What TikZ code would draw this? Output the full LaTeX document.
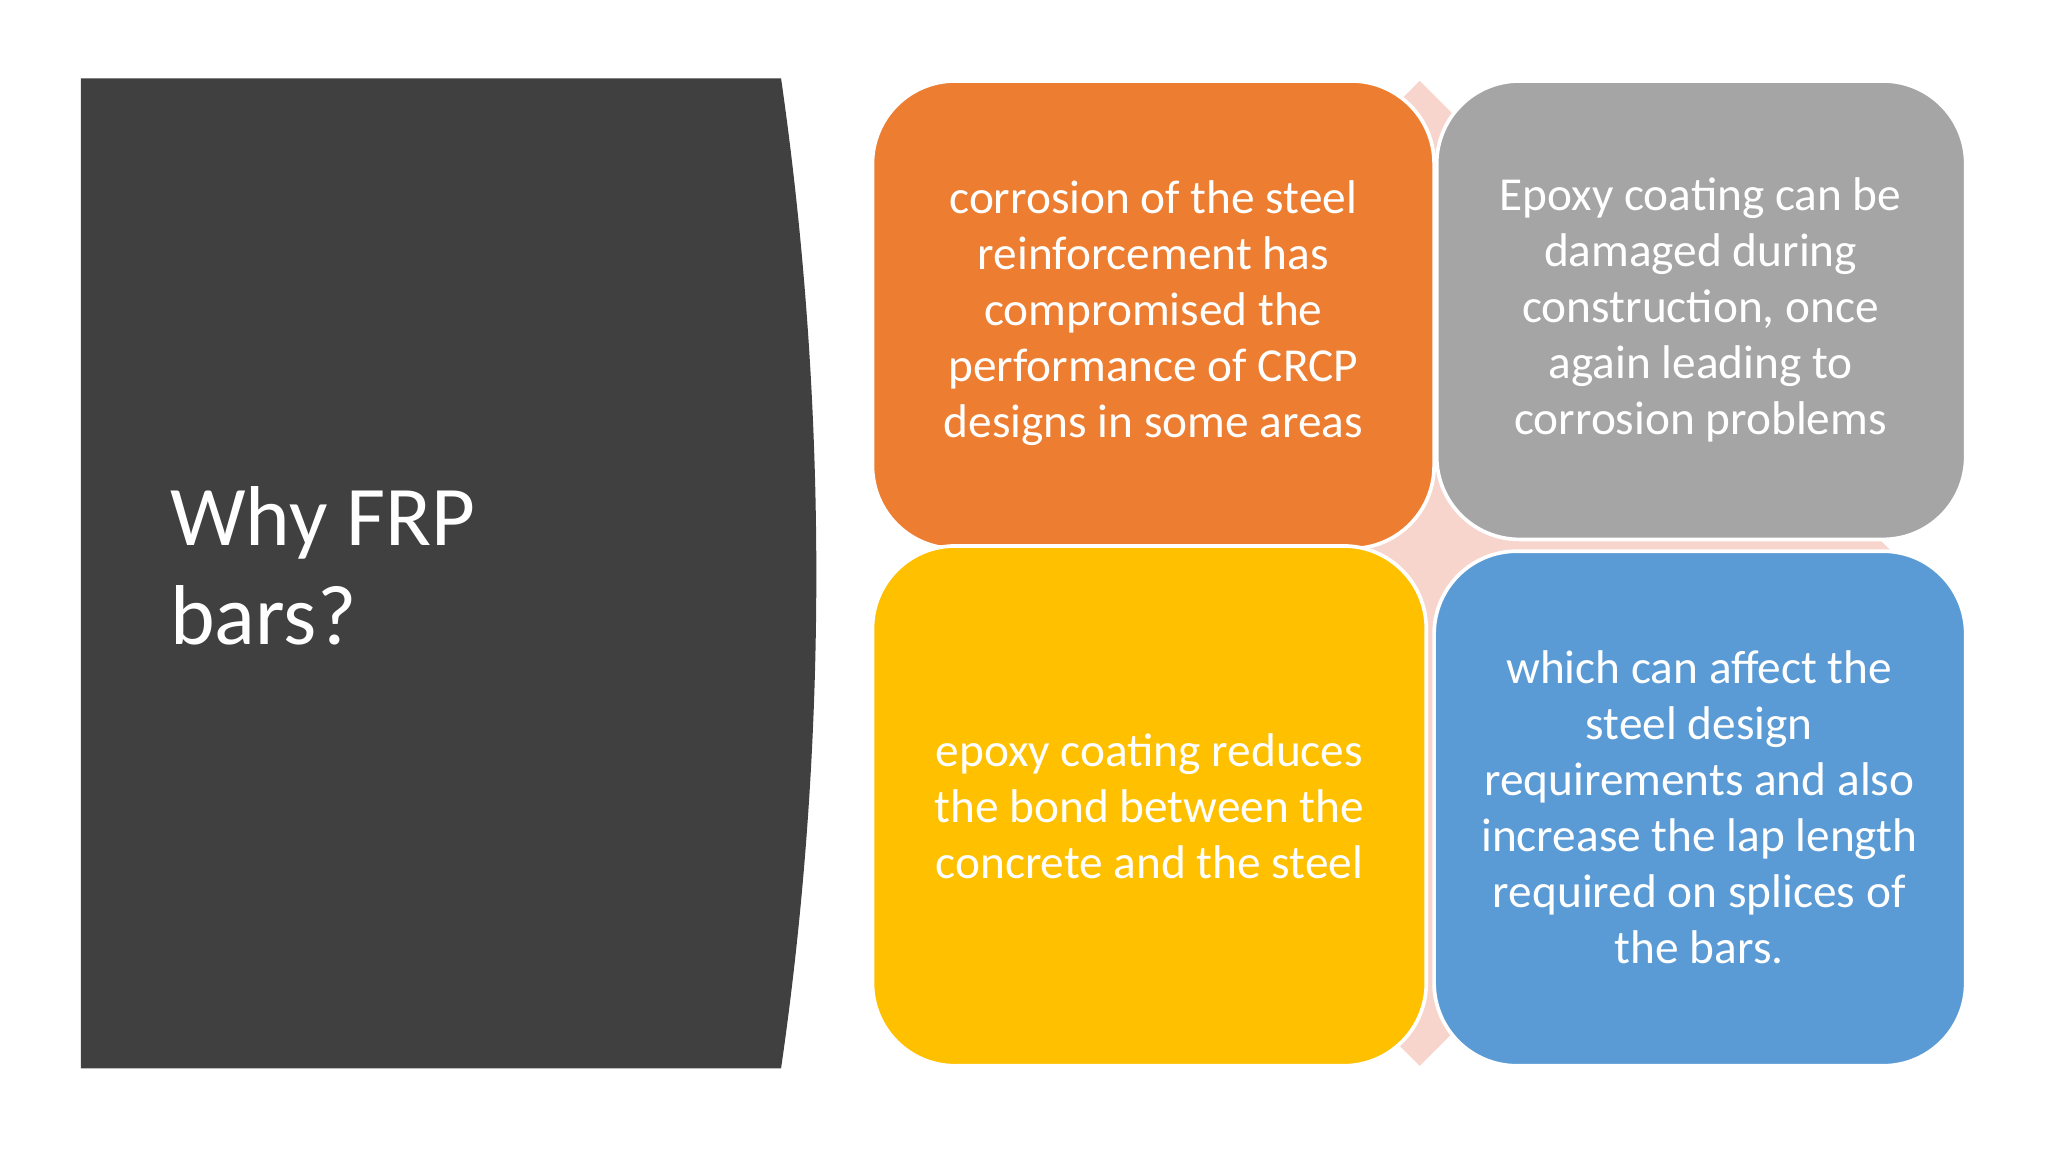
\documentclass[tikz,border=0pt]{standalone}
\usepackage{fontspec}
\setmainfont{Carlito}
\definecolor{dark}{HTML}{404040}
\definecolor{org}{HTML}{ED7D31}
\definecolor{gry}{HTML}{A5A5A5}
\definecolor{ylw}{HTML}{FFC000}
\definecolor{blu}{HTML}{5B9BD5}
\definecolor{pnk}{HTML}{F8D5CC}
\tikzset{card/.style={rounded corners=18pt,draw=white,line width=0.8pt},
 txt/.style={text=white,align=center,font=\fontsize{10.3}{12.2}\selectfont}}
\begin{document}
\begin{tikzpicture}[x=0.01cm,y=-0.01cm]
\useasboundingbox[fill=white] (0,0) rectangle (1568,882);
\fill[dark] (62,60) -- (598,60) .. controls (634,310) and (634,570) .. (598,818) -- (62,818) -- cycle;
\node[anchor=north west,text=white,align=left,font=\fontsize{18.5}{21.5}\selectfont] (title) at (118,360) {Why FRP\\bars?};
\fill[pnk] (1087,62) -- (1465,439) -- (1087,816) -- (709,439) -- cycle;
\draw[card,fill=org] (668,62) rectangle (1098,420);
\draw[card,fill=gry] (1100,62) rectangle (1505,413);
\draw[card,fill=ylw] (668,418) rectangle (1092,816);
\draw[card,fill=blu] (1098,422) rectangle (1505,816);
\node[txt] (a) at (883,240) {corrosion of the steel\\reinforcement has\\compromised the\\performance of CRCP\\designs in some areas};
\node[txt] (b) at (1302,237) {Epoxy coating can be\\damaged during\\construction, once\\again leading to\\corrosion problems};
\node[txt] (c) at (880,617) {epoxy coating reduces\\the bond between the\\concrete and the steel};
\node[txt] (d) at (1301,618) {which can affect the\\steel design\\requirements and also\\increase the lap length\\required on splices of\\the bars.};
\end{tikzpicture}
\end{document}
